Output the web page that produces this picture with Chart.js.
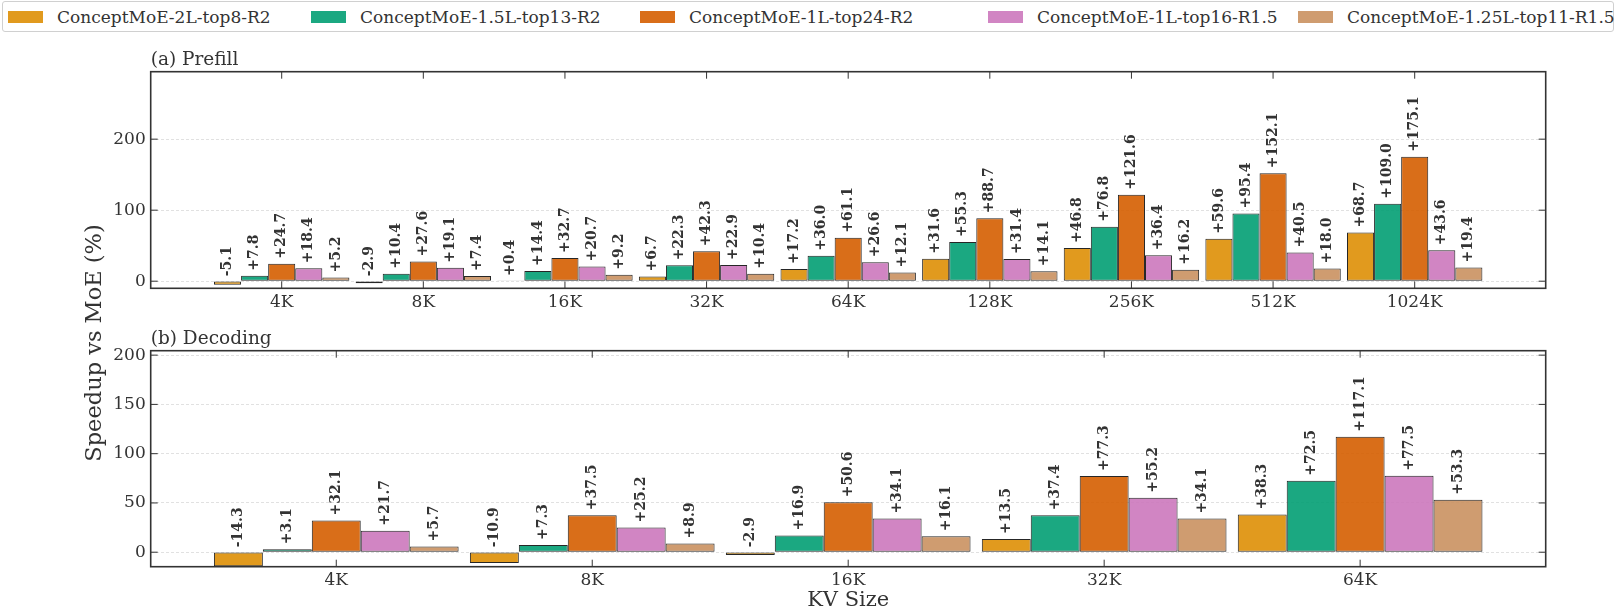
<!DOCTYPE html>
<html>
<head>
<meta charset="utf-8">
<title>ConceptMoE speedup vs MoE</title>
<script src="https://cdn.jsdelivr.net/npm/chart.js@4.4.1/dist/chart.umd.min.js"></script>
<style>
  html, body { margin: 0; padding: 0; background: #fff; }
  #wrap { position: relative; width: 1620px; height: 610px; overflow: hidden; }
  #wrap canvas { position: absolute; left: 0; top: 0; }
  .legend {
    position: absolute; left: 2px; top: 1px; width: 1612px; height: 31px;
    box-sizing: border-box; border: 1px solid #d0d0d0; border-radius: 3px;
    font-family: 'DejaVu Serif', serif; font-size: 17px; color: #333;
  }
  .legend .item { position: absolute; top: 0; height: 29px; display: flex; align-items: center; white-space: nowrap; }
  .legend .sw { width: 35px; height: 12px; margin-right: 14px; }
</style>
</head>
<body>
<div id="wrap">
  <div class="legend" id="legend"></div>
  <canvas id="prefill" width="1620" height="610"></canvas>
  <canvas id="decoding" width="1620" height="610"></canvas>
</div>
<script>
// series names + colours (seaborn colorblind, alpha .9)
const seriesNames = [
    'ConceptMoE-2L-top8-R2',
    'ConceptMoE-1.5L-top13-R2',
    'ConceptMoE-1L-top24-R2',
    'ConceptMoE-1L-top16-R1.5',
    'ConceptMoE-1.25L-top11-R1.5'
];
const seriesColors = [
    'rgba(222,143,5,0.9)',
    'rgba(2,158,115,0.9)',
    'rgba(213,94,0,0.9)',
    'rgba(204,120,188,0.9)',
    'rgba(202,145,97,0.9)'
];
// legend entry offsets inside the box (px)
const legendLeft = [5, 308, 637, 985, 1295];

// (a) Prefill
const prefillSizes = ['4K', '8K', '16K', '32K', '64K', '128K', '256K', '512K', '1024K'];
const prefillTop8  = [-5.1, -2.9, 0.4, 6.7, 17.2, 31.6, 46.8, 59.6, 68.7];
const prefillTop13 = [7.8, 10.4, 14.4, 22.3, 36.0, 55.3, 76.8, 95.4, 109.0];
const prefillTop24 = [24.7, 27.6, 32.7, 42.3, 61.1, 88.7, 121.6, 152.1, 175.1];
const prefillTop16 = [18.4, 19.1, 20.7, 22.9, 26.6, 31.4, 36.4, 40.5, 43.6];
const prefillTop11 = [5.2, 7.4, 9.2, 10.4, 12.1, 14.1, 16.2, 18.0, 19.4];
const prefillYTicks = [0, 100, 200];

// (b) Decoding
const decodeSizes = ['4K', '8K', '16K', '32K', '64K'];
const decodeTop8  = [-14.3, -10.9, -2.9, 13.5, 38.3];
const decodeTop13 = [3.1, 7.3, 16.9, 37.4, 72.5];
const decodeTop24 = [32.1, 37.5, 50.6, 77.3, 117.1];
const decodeTop16 = [21.7, 25.2, 34.1, 55.2, 77.5];
const decodeTop11 = [5.7, 8.9, 16.1, 34.1, 53.3];
const decodeYTicks = [0, 50, 100, 150, 200];

Chart.defaults.font.family = "'DejaVu Serif', serif";
Chart.defaults.color = '#333';

// legend row
const legendEl = document.getElementById('legend');
seriesNames.forEach((name, i) => {
    const item = document.createElement('div');
    item.className = 'item';
    item.style.left = legendLeft[i] + 'px';
    item.innerHTML = `<span class="sw" style="background:${seriesColors[i]}"></span><span>${name}</span>`;
    legendEl.appendChild(item);
});

// frame with inward ticks, value labels and titles (matplotlib look)
const framePlugin = {
    id: 'frame',
    afterDatasetsDraw(chart, args, opts) {
        const { ctx, chartArea: a, scales: { x, y } } = chart;
        ctx.save();

        ctx.strokeStyle = '#333';
        ctx.lineWidth = 1;
        ctx.beginPath();
        x.ticks.forEach(t => {
            const px = x.getPixelForValue(t.value);
            ctx.moveTo(px, a.top); ctx.lineTo(px, a.top + 7);
            ctx.moveTo(px, a.bottom); ctx.lineTo(px, a.bottom - 7);
        });
        y.ticks.forEach(t => {
            const py = y.getPixelForValue(t.value);
            ctx.moveTo(a.left, py); ctx.lineTo(a.left + 7, py);
            ctx.moveTo(a.right, py); ctx.lineTo(a.right - 7, py);
        });
        ctx.stroke();
        ctx.lineWidth = 1.6;
        ctx.strokeRect(a.left, a.top, a.right - a.left, a.bottom - a.top);

        // value labels, rotated
        ctx.font = "bold 14px 'DejaVu Serif'";
        ctx.fillStyle = '#333';
        ctx.textAlign = 'left';
        ctx.textBaseline = 'middle';
        chart.data.datasets.forEach((ds, i) => {
            chart.getDatasetMeta(i).data.forEach((bar, j) => {
                const v = ds.data[j].y;
                const py = y.getPixelForValue(Math.max(v, 0)) - 5;
                ctx.save();
                ctx.translate(bar.x, py);
                ctx.rotate(-Math.PI / 2);
                ctx.fillText((v >= 0 ? '+' : '') + v.toFixed(1), 0, 0);
                ctx.restore();
            });
        });

        // panel title
        ctx.font = "18.5px 'DejaVu Serif'";
        ctx.textBaseline = 'alphabetic';
        ctx.fillText(opts.title, a.left, opts.titleY);

        if (opts.xTitle) {
            ctx.font = "21px 'DejaVu Serif'";
            ctx.textAlign = 'center';
            ctx.fillText(opts.xTitle, (a.left + a.right) / 2, 606);
        }
        if (opts.yTitle) {
            ctx.font = "22.5px 'DejaVu Serif'";
            ctx.textAlign = 'center';
            ctx.translate(101, 343);
            ctx.rotate(-Math.PI / 2);
            ctx.fillText(opts.yTitle, 0, 0);
        }
        ctx.restore();
    }
};

function makeChart(id, sizes, series, yMin, yMax, yTicks, xPad, padTop, padBottom, xHeight, decor) {
    return new Chart(document.getElementById(id), {
        type: 'bar',
        data: {
            datasets: series.map((vals, i) => ({
                label: seriesNames[i],
                data: vals.map((v, j) => ({ x: j, y: v })),
                backgroundColor: seriesColors[i],
                borderColor: '#262626',
                borderWidth: 1,
                borderSkipped: false,
                categoryPercentage: 0.956,
                barPercentage: 1
            }))
        },
        options: {
            responsive: false,
            animation: false,
            layout: { padding: { left: 0, right: 74.3, top: padTop, bottom: padBottom } },
            plugins: {
                legend: { display: false },
                tooltip: { enabled: false },
                frame: decor
            },
            scales: {
                x: {
                    type: 'linear',
                    min: -xPad,
                    max: sizes.length - 1 + xPad,
                    offset: false,
                    afterBuildTicks: s => { s.ticks = sizes.map((_, i) => ({ value: i })); },
                    afterFit: s => { s.height = xHeight; },
                    grid: { display: false, offset: false, drawTicks: false },
                    border: { display: false },
                    ticks: {
                        autoSkip: false, maxRotation: 0, padding: 4,
                        color: '#333', font: { size: 17 },
                        callback: v => sizes[Math.round(v)]
                    }
                },
                y: {
                    min: yMin,
                    max: yMax,
                    afterBuildTicks: s => { s.ticks = yTicks.map(v => ({ value: v })); },
                    afterFit: s => { s.width = 150.7; },
                    grid: { color: '#d9d9d9', lineWidth: 0.8, drawTicks: false },
                    border: { display: false, dash: [3, 2] },
                    ticks: { padding: 5, color: '#333', font: { size: 17 } }
                }
            }
        },
        plugins: [framePlugin]
    });
}

makeChart('prefill', prefillSizes,
    [prefillTop8, prefillTop13, prefillTop24, prefillTop16, prefillTop11],
    -10, 295, prefillYTicks, 0.925, 71.7, 290, 31.7,
    { title: '(a) Prefill', titleY: 65 });

makeChart('decoding', decodeSizes,
    [decodeTop8, decodeTop13, decodeTop24, decodeTop16, decodeTop11],
    -14.7, 204.5, decodeYTicks, 0.725, 350.7, 0, 43.3,
    { title: '(b) Decoding', titleY: 344, xTitle: 'KV Size', yTitle: 'Speedup vs MoE (%)' });
</script>
</body>
</html>
